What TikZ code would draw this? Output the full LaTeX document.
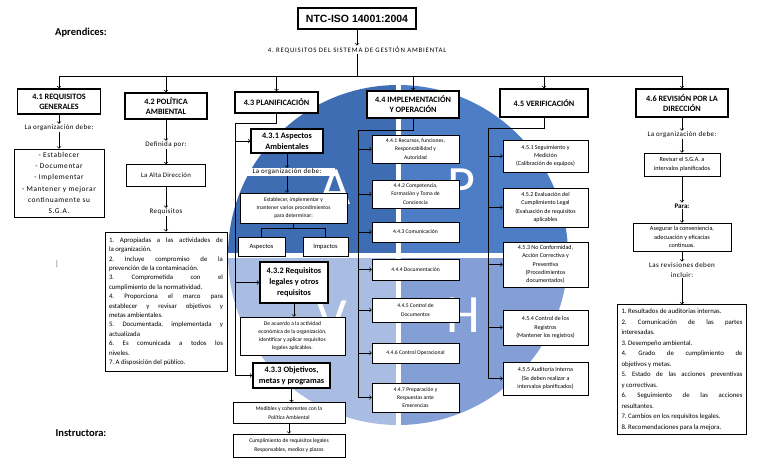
\documentclass[tikz,border=0pt]{standalone}
\usepackage{fontspec}
\setmainfont{Carlito}
\newfontfamily\titlefont{Liberation Sans}
\usetikzlibrary{arrows, shadows}
\tolerance=10000
\hyphenpenalty=10000
\hbadness=10000
\frenchspacing

\definecolor{quadA}{HTML}{3F6DB3}
\definecolor{quadP}{HTML}{4D7DC4}
\definecolor{quadV}{HTML}{A9BCE1}
\definecolor{quadH}{HTML}{839FD5}

\begin{document}
\begin{tikzpicture}[x=1pt, y=-1pt,
    head/.style={draw, line width=1.5pt, fill=white, align=center, inner sep=1pt,
      font=\bfseries\fontsize{8.2}{10}\selectfont},
    subhead/.style={head, font=\bfseries\fontsize{8.3}{11}\selectfont},
    item/.style={draw, line width=0.6pt, fill=white, align=center, inner sep=1pt,
      font=\fontsize{5.6}{8.2}\selectfont,
      drop shadow={shadow xshift=0.8pt, shadow yshift=-0.8pt, opacity=0.6}},
    note/.style={align=center, inner sep=1pt,
      font=\fontsize{7}{9.5}\selectfont\addfontfeatures{LetterSpace=6}},
    list/.style={draw, line width=0.8pt, fill=white, inner sep=4pt, align=justify,
      font=\fontsize{6.8}{9.4}\selectfont},
    letter/.style={text=white, inner sep=0pt, font=\fontsize{54}{54}\selectfont},
    flow/.style={->, >=to, line width=0.7pt},
    link/.style={line width=0.7pt}
  ]
  \useasboundingbox (0,0) rectangle (768,466);

  % PHVA circle
  \begin{scope}
    \clip (398,255) circle[radius=170pt];
    \fill[quadA] (228,85) rectangle (398,255);
    \fill[quadP] (398,85) rectangle (568,255);
    \fill[quadV] (228,255) rectangle (398,425);
    \fill[quadH] (398,255) rectangle (568,425);
    \draw[white, line width=5pt] (398,85) -- (398,425) (228,255) -- (568,255);
  \end{scope}
  \node[letter] (lA) at (335,187) {A};
  \node[letter] (lP) at (461,186) {P};
  \node[letter] (lV) at (332,318) {V};
  \node[letter] (lH) at (463,315) {H};

  % Title and labels
  \node[draw, line width=1.5pt, fill=white, minimum width=118, minimum height=21,
    font=\titlefont\bfseries\fontsize{10.5}{12}\selectfont] (iso) at (357,18.5) {NTC-ISO 14001:2004};
  \node[inner sep=1pt, font=\fontsize{6.8}{7}\selectfont\addfontfeatures{LetterSpace=12}] (req) at (357,50)
    {4. REQUISITOS DEL SISTEMA DE GESTIÓN AMBIENTAL};
  \node[font=\bfseries\fontsize{10.5}{12}\selectfont] (apr) at (81,33) {Aprendices:};
  \node[font=\bfseries\fontsize{10.5}{12}\selectfont] (ins) at (81,433) {Instructora:};
  \node[text=black!60, font=\fontsize{8}{8}\selectfont] (tick) at (57,264) {|};
  \coordinate (bus) at (357,76);

  % Main requirements
  \node[head, minimum width=83, minimum height=25] (g1) at (59,101.5) {4.1 REQUISITOS\\GENERALES};
  \node[head, minimum width=82, minimum height=26] (g2) at (166,106) {4.2 POLÍTICA\\AMBIENTAL};
  \node[head, minimum width=83, minimum height=21] (g3) at (276.5,102.5) {4.3 PLANIFICACIÓN};
  \node[head, minimum width=92, minimum height=27] (g4) at (413,104.5) {4.4 IMPLEMENTACIÓN\\Y OPERACIÓN};
  \node[head, minimum width=88, minimum height=28] (g5) at (544,103) {4.5 VERIFICACIÓN};
  \node[head, minimum width=92, minimum height=28] (g6) at (682,103) {4.6 REVISIÓN POR LA\\DIRECCIÓN};

  \draw[flow] (iso.south) -- (req.north);
  \draw[link] (req.south) -- (bus);
  \draw[link] (g1.north |- bus) -- (g6.north |- bus);
  \foreach \n in {g1,g2,g3,g4,g5,g6}
    \draw[flow] (\n.north |- bus) -- (\n.north);

  % 4.1
  \node[note] (o1) at (59,128) {La organización debe:};
  \node[item, minimum width=90, minimum height=68,
    font=\fontsize{7.4}{11.2}\selectfont\addfontfeatures{LetterSpace=8}] (b1) at (59,183)
    {- Establecer\\- Documentar\\- Implementar\\- Mantener y mejorar\\continuamente su\\S.G.A.};
  \draw[flow] (g1.south) -- (o1.north);
  \draw[flow] (o1.south) -- (b1.north);

  % 4.2
  \node[note] (d2) at (166,145) {Definida por:};
  \node[item, minimum width=79, minimum height=22,
    font=\fontsize{6.8}{8}\selectfont\addfontfeatures{LetterSpace=4}] (a2) at (166,175.5) {La Alta Dirección};
  \node[note] (r2) at (166,212) {Requisitos};
  \node[list, text width=114, minimum height=139] (l2) at (166,301.5) {%
    1. Apropiadas a las actividades de\linebreak la organización.\par
    2. Incluye compromiso de la\linebreak prevención de la contaminación.\par
    3. Comprometida con el\linebreak cumplimiento de la normatividad.\par
    4. Proporciona el marco para\linebreak establecer y revisar objetivos y\linebreak metas ambientales.\par
    5. Documentada, implementada y\linebreak actualizada\par
    6. Es comunicada a todos los\linebreak niveles.\par
    7. A disposición del público.};
  \draw[flow] (g2.south) -- (d2.north);
  \draw[flow] (d2.south) -- (a2.north);
  \draw[flow] (a2.south) -- (r2.north);
  \draw[flow] (r2.south) -- (l2.north);

  % 4.3
  \coordinate (p3) at (235,123);
  \node[subhead, minimum width=72, minimum height=24] (s331) at (287,141) {4.3.1 Aspectos\\Ambientales};
  \node[note, fill=white, minimum width=96] (o3) at (287,172) {La organización debe:};
  \node[item, minimum width=107, minimum height=30] (e3) at (293.5,208)
    {Establecer, implementar y\\mantener varios procedimientos\\para determinar:};
  \node[item, minimum width=47, minimum height=19, font=\fontsize{6.5}{7}\selectfont] (asp) at (261.5,246.5) {Aspectos};
  \node[item, minimum width=45, minimum height=19, font=\fontsize{6.5}{7}\selectfont] (imp) at (325.5,246.5) {Impactos};
  \node[subhead, minimum width=68, minimum height=41] (s332) at (294,282.5) {4.3.2 Requisitos\\legales y otros\\requisitos};
  \node[item, minimum width=105, minimum height=38] (da3) at (292.5,336)
    {De acuerdo a la actividad\\económica de la organización,\\identificar y aplicar requisitos\\legales aplicables.};
  \node[subhead, minimum width=77, minimum height=25] (s333) at (291.5,375.5) {4.3.3 Objetivos,\\metas y programas};
  \node[item, minimum width=112, minimum height=21] (m3) at (289,413) {Medibles y coherentes con la\\Política Ambiental};
  \node[item, minimum width=112, minimum height=23] (c3) at (289,445.5)
    {Cumplimiento de requisitos legales\\Responsables, medios y plazos};

  \draw[link] (g3.south) |- (p3) -- (p3 |- s333.west);
  \foreach \n in {s331,s332,s333}
    \draw[flow] (p3 |- \n.west) -- (\n.west);
  \draw[flow] (s331.south) -- (o3.north);
  \draw[flow] (o3.south) -- (o3.south |- e3.north);
  \draw[link] (e3.south) -- ++(0,5) -| (asp.north);
  \draw[link] (e3.south) ++(0,5) -| (imp.north);
  \draw[flow] (s332.south) -- (s332.south |- da3.north);
  \draw[flow] (s333.south) -- (s333.south |- m3.north);
  \draw[flow] (m3.south) -- (c3.north);

  % 4.4
  \coordinate (p4) at (358,130);
  \node[item, minimum width=87, minimum height=28] (s441) at (415.5,149) {4.4.1 Recursos, funciones,\\Responsabilidad y\\Autoridad};
  \node[item, minimum width=87, minimum height=28] (s442) at (415.5,194) {4.4.2 Competencia,\\Formación y Toma de\\Conciencia};
  \node[item, minimum width=87, minimum height=20] (s443) at (415.5,232) {4.4.3 Comunicación};
  \node[item, minimum width=87, minimum height=21] (s444) at (415.5,269.5) {4.4.4 Documentación};
  \node[item, minimum width=87, minimum height=24] (s445) at (415.5,310) {4.4.5 Control de\\Documentos};
  \node[item, minimum width=87, minimum height=20] (s446) at (415.5,353) {4.4.6 Control Operacional};
  \node[item, minimum width=87, minimum height=29] (s447) at (415.5,397.5) {4.4.7 Preparación y\\Respuestas ante\\Emerencias};
  \draw[link] (g4.south) |- (p4) -- (p4 |- s447.west);
  \foreach \n in {s441,s442,s443,s444,s445,s446,s447}
    \draw[flow] (p4 |- \n.west) -- (\n.west);

  % 4.5
  \coordinate (p5) at (488,128);
  \tikzset{item5/.style={item, minimum width=85, font=\fontsize{6}{8.4}\selectfont}}
  \node[item5, minimum height=32] (s451) at (545.5,156) {4.5.1 Seguimiento y\\Medición\\(Calibración de equipos)};
  \node[item5, minimum height=39] (s452) at (545.5,207.5) {4.5.2 Evaluación del\\Cumplimiento Legal\\(Evaluación de requisitos\\aplicables};
  \node[item5, minimum height=45] (s453) at (545.5,264.5) {4.5.3 No Conformidad,\\Acción Correctiva y\\Preventiva\\(Procedimientos\\documentados)};
  \node[item5, minimum height=35] (s454) at (545.5,327.5) {4.5.4 Control de los\\Registros\\(Mantener los registros)};
  \node[item5, minimum height=33] (s455) at (545.5,378.5) {4.5.5 Auditoría Interna\\(Se deben realizar a\\intervalos planificados)};
  \draw[link] (g5.south) |- (p5) -- (p5 |- s455.west);
  \foreach \n in {s451,s452,s453,s454,s455}
    \draw[flow] (p5 |- \n.west) -- (\n.west);

  % 4.6
  \node[note] (o6) at (682,135) {La organización debe:};
  \node[item, minimum width=76, minimum height=23, font=\fontsize{6.2}{8.5}\selectfont] (rv6) at (682,164.5)
    {Revisar el S.G.A. a\\intervalos planificados};
  \node[note, font=\bfseries\fontsize{7}{8}\selectfont] (pa6) at (682,206) {Para:};
  \node[item, minimum width=98, minimum height=28, font=\fontsize{6.2}{8.5}\selectfont] (as6) at (682,237)
    {Asegurar la conveniencia,\\adecuación y eficacias\\continuas.};
  \node[note] (lr6) at (682,270) {Las revisiones deben\\incluir:};
  \node[list, text width=121, minimum height=123, font=\fontsize{6.8}{10.5}\selectfont]
    (l6) at (682,369.5) {%
    1. Resultados de auditorias internas.\par
    2. Comunicación de las partes\linebreak interesadas.\par
    3. Desempeño ambiental.\par
    4. Grado de cumplimiento de\linebreak objetivos y metas.\par
    5. Estado de las acciones preventivas\linebreak y correctivas.\par
    6. Seguimiento de las acciones\linebreak resultantes.\par
    7. Cambios en los requisitos legales.\par
    8. Recomendaciones para la mejora.};
  \draw[flow] (g6.south) -- (o6.north);
  \draw[flow] (o6.south) -- (rv6.north);
  \draw[flow] (rv6.south) -- (pa6.north);
  \draw[flow] (pa6.south) -- (as6.north);
  \draw[flow] (as6.south) -- (lr6.north);
  \draw[flow] (lr6.south) -- (l6.north);

\end{tikzpicture}
\end{document}
